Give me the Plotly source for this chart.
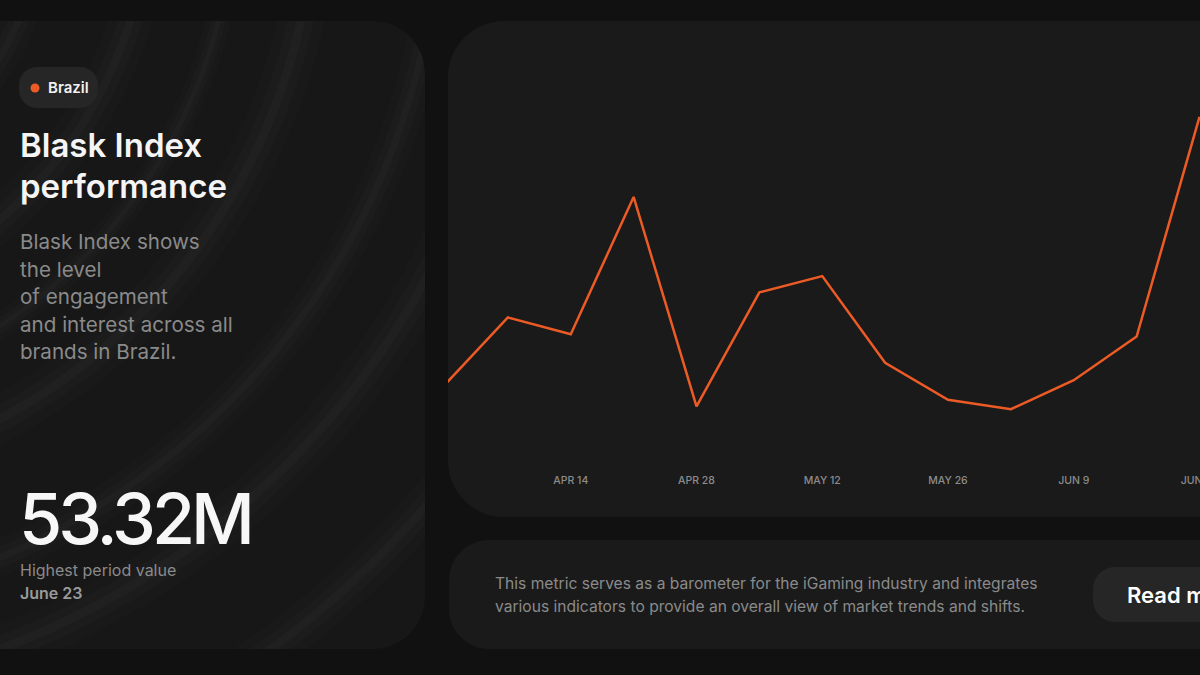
import numpy as np
import plotly.graph_objects as go

W, H = 1200, 675

# ---------------- data ----------------
week_dates = ["2024-03-31", "2024-04-07", "2024-04-14", "2024-04-21", "2024-04-28",
              "2024-05-05", "2024-05-12", "2024-05-19", "2024-05-26", "2024-06-02",
              "2024-06-09", "2024-06-16", "2024-06-23"]
index_values_m = [40.05, 43.38, 42.55, 49.35, 38.97, 44.62, 45.43,
                  41.13, 39.30, 38.83, 40.27, 42.43, 53.32]
tick_dates = ["2024-04-14", "2024-04-28", "2024-05-12", "2024-05-26", "2024-06-09", "2024-06-23"]
tick_labels = ["APR 14", "APR 28", "MAY 12", "MAY 26", "JUN 9", "JUN 23"]

country = "Brazil"
title_lines = ["Blask Index", "performance"]
desc_lines = ["Blask Index shows", "the level", "of engagement",
              "and interest across all", "brands in Brazil."]
peak_value = "53.32M"
peak_label = "Highest period value"
peak_date = "June 23"
footer_lines = ["This metric serves as a barometer for the iGaming industry and integrates",
                "various indicators to provide an overall view of market trends and shifts."]
button_text = "Read more"

# ---------------- styling ----------------
BG = "#111111"
CARD = "#1a1a1a"
LEFT_CARD = "#171717"
PILL = "#262626"
ORANGE = "#EC5B25"
GREY = "#8a8a8a"
FONT = "Inter"


def fx(x):
    return x / W


def fy(y):
    return 1 - y / H


def rrect_path(x0, y0, x1, y1, r):
    k = 0.5523 * r
    pts = [("M", [(x0 + r, y0)]), ("L", [(x1 - r, y0)]),
           ("C", [(x1 - r + k, y0), (x1, y0 + r - k), (x1, y0 + r)]),
           ("L", [(x1, y1 - r)]),
           ("C", [(x1, y1 - r + k), (x1 - r + k, y1), (x1 - r, y1)]),
           ("L", [(x0 + r, y1)]),
           ("C", [(x0 + r - k, y1), (x0, y1 - r + k), (x0, y1 - r)]),
           ("L", [(x0, y0 + r)]),
           ("C", [(x0, y0 + r - k), (x0 + r - k, y0), (x0 + r, y0)])]
    s = ""
    for cmd, ps in pts:
        s += cmd + " " + " ".join(f"{fx(a):.5f},{fy(b):.5f}" for a, b in ps) + " "
    return s + "Z"


def rrect_poly(x0, y0, x1, y1, r, n=10):
    pts = []
    corners = [(x1 - r, y0 + r, -90, 0), (x1 - r, y1 - r, 0, 90),
               (x0 + r, y1 - r, 90, 180), (x0 + r, y0 + r, 180, 270)]
    for cx, cy, a0, a1 in corners:
        for a in np.linspace(np.radians(a0), np.radians(a1), n):
            pts.append((cx + r * np.cos(a), cy + r * np.sin(a)))
    return pts


def cross(a, b, p):
    return (b[0] - a[0]) * (p[1] - a[1]) - (b[1] - a[1]) * (p[0] - a[0])


def clip_poly(subject, clip):
    cx = sum(p[0] for p in clip) / len(clip)
    cy = sum(p[1] for p in clip) / len(clip)
    out = list(subject)
    n = len(clip)
    for i in range(n):
        a, b = clip[i], clip[(i + 1) % n]
        ref = cross(a, b, (cx, cy))

        def ins(p):
            return cross(a, b, p) * ref >= 0

        def inter(p, q):
            d1, d2 = cross(a, b, p), cross(a, b, q)
            t = d1 / (d1 - d2)
            return (p[0] + t * (q[0] - p[0]), p[1] + t * (q[1] - p[1]))

        inp, out = out, []
        if not inp:
            break
        prev = inp[-1]
        for cur in inp:
            if ins(cur):
                if not ins(prev):
                    out.append(inter(prev, cur))
                out.append(cur)
            elif ins(prev):
                out.append(inter(prev, cur))
            prev = cur
    return out


shapes = []
# left card
LC = (-100, 21, 425, 649, 52)
shapes.append(dict(type="path", path=rrect_path(*LC), fillcolor=LEFT_CARD,
                   line=dict(width=0), layer="below"))
# decorative fabric-like ripples on the left card
clip = rrect_poly(*LC)
center = (-285, -109)
ripples = [(330, 20), (435, 24), (520, 14), (600, 26), (725, 20), (810, 26), (940, 24)]
for radius, width in ripples:
    for wmul, alpha in [(1.8, 0.010), (1.0, 0.015), (0.35, 0.018)]:
        w = width * wmul
        ang = np.radians(np.linspace(2, 80, 300))
        outer = [(center[0] + (radius + w / 2) * np.cos(t), center[1] + (radius + w / 2) * np.sin(t)) for t in ang]
        inner = [(center[0] + (radius - w / 2) * np.cos(t), center[1] + (radius - w / 2) * np.sin(t)) for t in ang[::-1]]
        poly = clip_poly(outer + inner, clip)
        if len(poly) < 3:
            continue
        path = "M " + " L ".join(f"{fx(a):.5f},{fy(b):.5f}" for a, b in poly) + " Z"
        shapes.append(dict(type="path", path=path, fillcolor=f"rgba(255,255,255,{alpha})",
                           line=dict(width=0), layer="below"))
# chart card
shapes.append(dict(type="path", path=rrect_path(448, 21, 1320, 517, 56), fillcolor=CARD,
                   line=dict(width=0), layer="below"))
# footer card
shapes.append(dict(type="path", path=rrect_path(449, 540, 1320, 649, 40), fillcolor=CARD,
                   line=dict(width=0), layer="below"))
# button
shapes.append(dict(type="path", path=rrect_path(1093, 567, 1320, 622, 22), fillcolor=PILL,
                   line=dict(width=0), layer="below"))
# pill
shapes.append(dict(type="path", path=rrect_path(19, 67, 98, 108, 18), fillcolor=PILL,
                   line=dict(width=0), layer="below"))
# orange dot
shapes.append(dict(type="circle", xref="paper", yref="paper",
                   x0=fx(30.5), x1=fx(39.5), y0=fy(92.5), y1=fy(83.5),
                   fillcolor=ORANGE, line=dict(width=0), layer="above"))
for s in shapes:
    s.setdefault("xref", "paper")
    s.setdefault("yref", "paper")

ann = []


def text(t, x, y, size, color, weight=400, anchor="left"):
    ann.append(dict(text=t, x=fx(x), y=fy(y), xref="paper", yref="paper",
                    xanchor=anchor, yanchor="middle", showarrow=False,
                    font=dict(family=FONT, size=size, color=color, weight=weight)))


text(country, 46, 88, 15, "#f2f2f2", 600)
text(title_lines[0], 18, 145, 33, "#f5f5f5", 600)
text(title_lines[1], 18, 186, 33, "#f5f5f5", 600)
for i, line in enumerate(desc_lines):
    text(line, 18, 242 + i * 27.5, 20.6, GREY, 400)
text(f'<span style="letter-spacing:-4px">{peak_value}</span>', 17, 518, 70, "#f7f7f7", 500)
text(peak_label, 18, 570, 16, GREY, 400)
text(peak_date, 18, 593, 16, "#9a9a9a", 600)
for i, line in enumerate(footer_lines):
    text(line, 493, 583 + i * 23.5, 15.6, GREY, 400)
text(button_text, 1125, 595, 22, "#ffffff", 600)

fig = go.Figure()
fig.add_trace(go.Scatter(x=week_dates, y=index_values_m, mode="lines",
                         line=dict(color=ORANGE, width=2.5), hoverinfo="skip",
                         showlegend=False))
fig.update_layout(
    width=W, height=H, margin=dict(l=0, r=0, t=0, b=0, autoexpand=False),
    paper_bgcolor=BG, plot_bgcolor="rgba(0,0,0,0)",
    shapes=shapes, annotations=ann, showlegend=False,
    xaxis=dict(domain=[fx(448), 1], type="date", automargin=False,
               range=["2024-03-31 08:00", "2024-06-23 01:20"],
               tickvals=tick_dates, ticktext=tick_labels,
               showgrid=False, zeroline=False, showline=False, ticks="",
               ticklabeloverflow="allow",
               tickfont=dict(family=FONT, size=10.5, color="#8c8c8c", weight=500)),
    yaxis=dict(domain=[fy(472), fy(21)], range=[35.82 - 0.1, 58.17 - 0.1],
               visible=False, automargin=False),
)
fig.write_html("out.html")
